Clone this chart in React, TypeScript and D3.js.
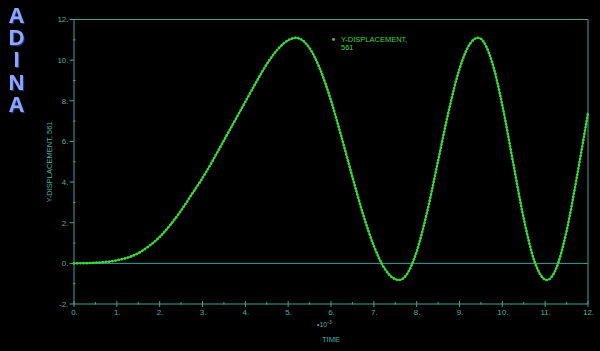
import React from "react";
import * as d3 from "d3";

const timeValues = [0, 0.25, 0.5, 0.75, 1, 1.25, 1.5, 1.75, 2, 2.25, 2.5, 2.75, 3, 3.25, 3.5, 3.75, 4, 4.25, 4.5, 4.75, 5, 5.18, 5.5, 5.75, 6, 6.25, 6.5, 6.75, 7, 7.25, 7.5, 7.59, 7.75, 8, 8.25, 8.5, 8.75, 9, 9.25, 9.43, 9.5, 9.75, 10, 10.25, 10.5, 10.75, 11, 11.04, 11.25, 11.5, 11.75, 12];
const yDisplacement = [0, 0.01, 0.03, 0.07, 0.15, 0.28, 0.5, 0.85, 1.3, 1.9, 2.6, 3.4, 4.2, 5.1, 6.05, 7.0, 7.95, 8.9, 9.8, 10.52, 10.98, 11.1, 10.59, 9.53, 8.01, 6.18, 4.25, 2.41, 0.86, -0.25, -0.78, -0.82, -0.6, 0.58, 2.58, 5.04, 7.51, 9.57, 10.82, 11.1, 11.05, 9.97, 7.78, 4.97, 2.2, 0.1, -0.8, -0.82, -0.29, 1.59, 4.36, 7.4];
const xTicks = [0, 1, 2, 3, 4, 5, 6, 7, 8, 9, 10, 11, 12];
const xMinorTicks = [0.5, 1.5, 2.5, 3.5, 4.5, 5.5, 6.5, 7.5, 8.5, 9.5, 10.5, 11.5];
const yTicks = [-2, 0, 2, 4, 6, 8, 10, 12];
const yMinorTicks = [-1, 1, 3, 5, 7, 9, 11];
const logoText = "ADINA";
const legendLines = ["Y-DISPLACEMENT,", "561"];

const AXIS = "#40a49a";
const LABEL = "#48b2a6";
const GREEN = "#3ad83a";
const FONT = "'Liberation Sans', Arial, sans-serif";

export default function App() {
  const x = d3.scaleLinear().domain([0, 12]).range([74, 588]);
  const y = d3.scaleLinear().domain([-2, 12]).range([304, 19.5]);
  const pts = timeValues.map((t, i) => [t, yDisplacement[i]] as [number, number]);
  const line = d3
    .line<[number, number]>()
    .x((d) => x(d[0]))
    .y((d) => y(d[1]))
    .curve(d3.curveMonotoneX);
  const path = line(pts) || "";

  return (
    <svg
      width={600}
      height={351}
      style={{ position: "absolute", left: 0, top: 0, background: "#000" }}
      fontFamily={FONT}
    >
      <defs>
        <filter id="logoShadow" x="-30%" y="-10%" width="160%" height="120%">
          <feDropShadow dx={1.2} dy={1.2} stdDeviation={0.3} floodColor="#22357a" floodOpacity={1} />
        </filter>
      </defs>
      <rect x={0} y={0} width={600} height={351} fill="#000" />
      {/* ADINA logo */}
      <g filter="url(#logoShadow)">
        <text
          x={16.5}
          y={3}
          fontSize={22}
          fontWeight="bold"
          fill="#8ea6ff"
          letterSpacing={-2.8}
          style={{ writingMode: "vertical-rl", textOrientation: "upright" } as any}
        >
          {logoText}
        </text>
      </g>
      {/* frame */}
      <line x1={x(0)} x2={x(12)} y1={y(12)} y2={y(12)} stroke={AXIS} strokeWidth={1} />
      <line x1={x(12)} x2={x(12)} y1={y(12)} y2={y(-2)} stroke={AXIS} strokeWidth={1} />
      <line x1={x(0)} x2={x(0)} y1={y(12)} y2={y(-2)} stroke={AXIS} strokeWidth={1} />
      <line x1={x(0)} x2={x(12)} y1={y(-2)} y2={y(-2)} stroke={AXIS} strokeWidth={1} />
      <line x1={x(0)} x2={x(12)} y1={y(0)} y2={y(0)} stroke={AXIS} strokeWidth={1} />
      {/* y ticks */}
      {yTicks.map((v) => (
        <g key={"y" + v}>
          <line x1={x(0) - 4.5} x2={x(0)} y1={y(v)} y2={y(v)} stroke={AXIS} />
          <text x={x(0) - 5.5} y={y(v) + 2.8} textAnchor="end" fontSize={8} fill={LABEL}>
            {v + "."}
          </text>
        </g>
      ))}
      {yMinorTicks.map((v) => (
        <line key={"ym" + v} x1={x(0) - 1} x2={x(0) + 1.5} y1={y(v)} y2={y(v)} stroke={AXIS} />
      ))}
      {/* x ticks */}
      {xTicks.map((v) => (
        <g key={"x" + v}>
          <line x1={x(v)} x2={x(v)} y1={y(-2) - 3} y2={y(-2) + 3} stroke={AXIS} />
          <text x={x(v) + 0.5} y={y(-2) + 11} textAnchor="middle" fontSize={8} fill={LABEL}>
            {v + "."}
          </text>
        </g>
      ))}
      {xMinorTicks.map((v) => (
        <line key={"xm" + v} x1={x(v)} x2={x(v)} y1={y(-2) - 2} y2={y(-2) + 0.5} stroke={AXIS} />
      ))}
      {/* axis titles */}
      <text x={317} y={327} fontSize={7} fill={LABEL}>
        •10
        <tspan dy={-3} fontSize={5}>-3</tspan>
      </text>
      <text x={331} y={342} textAnchor="middle" fontSize={7.5} fill={LABEL}>
        TIME
      </text>
      <text
        transform={`translate(52,${162}) rotate(-90)`}
        textAnchor="middle"
        fontSize={7.5}
        fill={LABEL}
      >
        Y-DISPLACEMENT, 561
      </text>
      {/* curve */}
      <path d={path} fill="none" stroke={GREEN} strokeWidth={1.3} />
      <path
        d={path}
        fill="none"
        stroke={GREEN}
        strokeWidth={2.7}
        strokeLinecap="round"
        strokeDasharray="0.1 3.1"
      />
      {/* legend */}
      <circle cx={333.5} cy={39.5} r={1.4} fill={GREEN} />
      {legendLines.map((s, i) => (
        <text key={i} x={341} y={42 + i * 7.5} fontSize={7.5} fill={GREEN}>
          {s}
        </text>
      ))}
    </svg>
  );
}
